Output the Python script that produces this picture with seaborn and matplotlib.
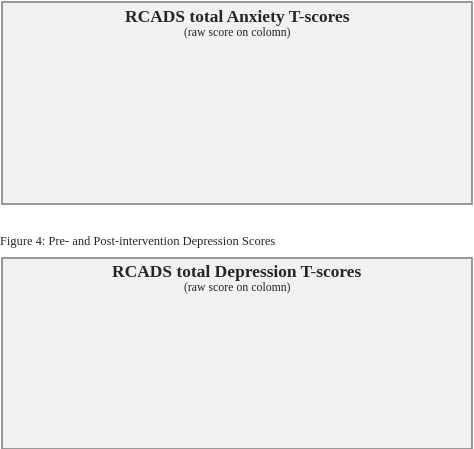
import numpy as np
import pandas as pd
import matplotlib
matplotlib.use("Agg")
import matplotlib.pyplot as plt
import seaborn as sns
from matplotlib.patches import Rectangle

sns.set_style("white")
plt.rcParams['font.family'] = ['Liberation Serif', 'DejaVu Serif']

groups = ["1", "2", "3", "4", "5", "6"]

anx_series = ["Parent-Pre", "Parent-Post", "Child-Pre", "Child-Post"]
anx_t = [
    [63, 80, 54, 65, 80, 80],
    [53, 80, 47, 34, 80, 80],
    [52, 80, 76, 48, 80, 71],
    [58, 58, 42, 28, 80, 71],
]
anx_raw = [
    ["31", "99", "27", "38", "78", "50"],
    ["20", "87", "20", "1", "68", "48"],
    ["34", "87", "78", "36", "99", "55"],
    ["44", "39", "24", "0", "95", "57"],
]

dep_series = ["Parent- pre", "Parent-post", "Child-pre", "Child-post"]
dep_t = [
    [63, 80, 51, 69, 80, 80],
    [57, 80, 45, 44, 66, 80],
    [55, 75, 80, 48, 72, 72],
    [63, 66, 45, 33, 63, 80],
]
dep_raw = [
    ["9", "27", "4", "10", "11", "16"],
    ["6", "20", "2", "1", "9", "16"],
    ["10", "16", "24", "8", "17", "15"],
    ["13", "13", "5", "0", "13", "18"],
]

colors = ["#6a6a6a", "#8e8e8e", "#adadad", "#d2d2d2"]


def panel(fig, rect, title, series, tvals, raw, nonclin):
    x0, y0, w, h = rect
    fig.patches.append(Rectangle((x0, y0), w, h, transform=fig.transFigure,
                                 facecolor="#f2f2f2", edgecolor="#888888", lw=1.2))
    ax = fig.add_axes([x0 + 0.055 * w / 0.97, y0 + h * 0.2, w * 0.73, h * 0.62])
    ax.set_facecolor("none")
    rows = []
    for s, vals, labs in zip(series, tvals, raw):
        for g, v, l in zip(groups, vals, labs):
            rows.append({"group": g, "series": s, "t": v, "raw": l})
    df = pd.DataFrame(rows)
    sns.barplot(data=df, x="group", y="t", hue="series", palette=colors, ax=ax,
                width=0.75, edgecolor="#555555", linewidth=0.4)
    ax.set_ylim(20, 80)
    ax.set_yticks(range(20, 81, 10))
    ax.yaxis.grid(True, color="#555555", lw=0.8)
    ax.set_axisbelow(True)
    for c, cont in enumerate(ax.containers):
        labs = df[df.series == series[c]]["raw"].tolist()
        ax.bar_label(cont, labels=labs, label_type="edge", padding=-10, fontsize=8.5, color="#222222")
    sns.despine(ax=ax, left=True, bottom=True)
    ax.set_xlabel("")
    ax.set_ylabel("")
    ax.tick_params(labelsize=8, length=0)
    ax.legend(loc="upper center", bbox_to_anchor=(0.5, -0.1), ncol=4, frameon=False,
              fontsize=7.5, handlelength=0.6, handletextpad=0.3, columnspacing=1.0)
    fig.text(x0 + w * 0.5, y0 + h * 0.92, title, ha="center", va="center", fontsize=12.5, fontweight="bold")
    fig.text(x0 + w * 0.5, y0 + h * 0.85, "(raw score on colomn)", ha="center", va="center", fontsize=8.5)
    # right-hand annotations
    ax.annotate("", xy=(1.06, 79.5), xytext=(1.06, 72), xycoords=("axes fraction", "data"),
                arrowprops=dict(arrowstyle="<->", color="#bbbbbb", lw=2.5), annotation_clip=False)
    ax.plot([1.06], [70], marker="*", color="#777777", ms=9, transform=ax.get_yaxis_transform(), clip_on=False)
    ax.annotate("", xy=(1.06, 20), xytext=(1.06, 68), xycoords=("axes fraction", "data"),
                arrowprops=dict(arrowstyle="<|-|>", color="#333333", lw=2), annotation_clip=False)
    ax.text(1.11, 76, "Clinical", transform=ax.get_yaxis_transform(), fontsize=8.5, va="center")
    ax.text(1.09, 70, "Borderline", transform=ax.get_yaxis_transform(), fontsize=8.5, va="center")
    ax.text(1.08, 42, nonclin, transform=ax.get_yaxis_transform(), fontsize=8.5, va="center")


fig = plt.figure(figsize=(4.74, 4.49), dpi=100)
fig.patch.set_facecolor("white")
panel(fig, (0.005, 0.545, 0.99, 0.45), "RCADS total Anxiety T-scores", anx_series, anx_t, anx_raw, "Non-Clinical")
fig.text(0.0, 0.462, "Figure 4: Pre- and Post-intervention Depression Scores", fontsize=9, va="center")
panel(fig, (0.005, 0.0, 0.99, 0.425), "RCADS total Depression T-scores", dep_series, dep_t, dep_raw, "Non-clinical")
fig.savefig("out.png", dpi=100)
